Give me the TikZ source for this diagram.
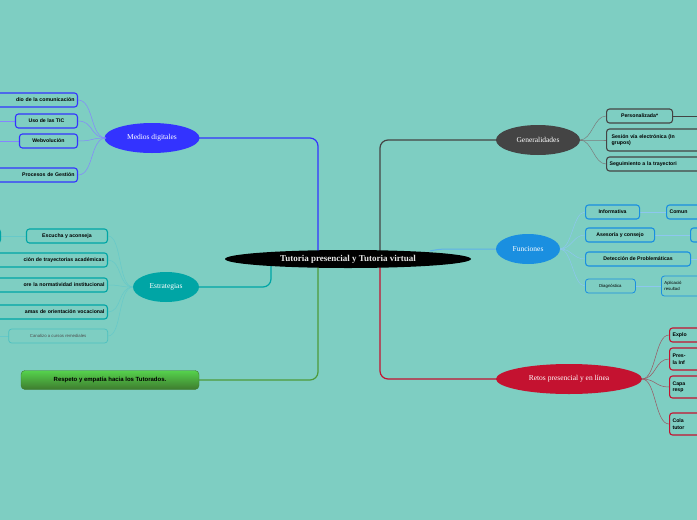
\documentclass[tikz,border=0pt]{standalone}
\usepackage{fontspec}
\setmainfont{Liberation Serif}
\setsansfont{Liberation Sans}
\usetikzlibrary{shapes.geometric}
\definecolor{bg}{HTML}{7ECEC2}
\definecolor{mblue}{HTML}{3333FF}
\definecolor{mteal}{HTML}{00A5A5}
\definecolor{mgray}{HTML}{444444}
\definecolor{fblue}{HTML}{1A8FE0}
\definecolor{mred}{HTML}{C41230}
\definecolor{mgreen}{HTML}{4E9A3A}
\tikzset{
 ell/.style={ellipse,inner sep=0pt,text=white,font=\fontsize{7.5}{8}\selectfont},
 bx/.style={rectangle,rounded corners=3pt,line width=1.1pt,fill=bg,font=\sffamily\bfseries\fontsize{5.2}{6}\selectfont,inner sep=1pt,minimum height=14pt},
 two/.style={minimum height=22pt,font=\sffamily\bfseries\fontsize{5.2}{6.5}\selectfont},
 lnk/.style={line width=0.5pt},
}
\begin{document}
\begin{tikzpicture}[x=1pt,y=-1pt]
\fill[bg] (0,0) rectangle (697,520);
\clip (0,0) rectangle (697,520);
\useasboundingbox (0,0) rectangle (697,520);
\draw[mblue,line width=1.2pt,rounded corners=8pt] (199,138) -- (318,138) -- (318,259);
\draw[mteal,line width=1.2pt,rounded corners=8pt] (199,287) -- (271,287) -- (271,259);
\draw[mgreen,line width=1.2pt,rounded corners=8pt] (199,380) -- (318,380) -- (318,259);
\draw[mgray,line width=1.2pt,rounded corners=8pt] (497,140) -- (380,140) -- (380,259);
\draw[mred,line width=1.2pt,rounded corners=8pt] (497,379) -- (380,379) -- (380,259);
\draw[fblue!70,line width=1pt,rounded corners=6pt] (430,251) -- (440,249) -- (497,249);
\node[ell,fill=black,minimum width=246pt,minimum height=18pt,font=\bfseries\fontsize{9}{10}\selectfont,text=white!90!black] (c) at (348,259) {Tutoria presencial y Tutoria virtual};
% Medios digitales
\node[ell,fill=mblue,minimum width=95pt,minimum height=30pt] (md) at (152,138) {Medios digitales};
\foreach \y in {100,121,141,175}{\draw[mblue!60,lnk] (106,138) .. controls (90,138) and (94,\y) .. (78,\y);}
\draw[mblue!60] (0,121) -- (16,121) (0,141) -- (20,141);
\node[bx,draw=mblue,anchor=east,minimum width=110pt,text width=104pt,align=right] (m1) at (78,100) {dio de la comunicación};
\node[bx,draw=mblue,anchor=east,minimum width=62pt] (m2) at (78,121) {Uso de las TIC};
\node[bx,draw=mblue,anchor=east,minimum width=58pt] (m3) at (78,141) {Webvolución};
\node[bx,draw=mblue,anchor=east,minimum width=90pt,text width=84pt,align=right] (m4) at (78,175) {Procesos de Gestión};
% Estrategias
\node[ell,fill=mteal,minimum width=66pt,minimum height=30pt] (es) at (166,287) {Estrategias};
\foreach \y in {236,260,285,312,336}{\draw[mteal!60,lnk] (133,287) .. controls (118,287) and (122,\y) .. (108,\y);}
\draw[mteal!60] (0,236) -- (27,236) (0,336) -- (9,336);
\node[bx,draw=mteal,minimum width=8pt,anchor=east] (e0) at (1,236) {};
\node[bx,draw=mteal,anchor=east,minimum width=81pt] (e1) at (108,236) {Escucha y aconseja};
\node[bx,draw=mteal,anchor=east,minimum width=130pt,text width=124pt,align=right] (e2) at (108,260) {ción de trayectorias académicas};
\node[bx,draw=mteal,anchor=east,minimum width=130pt,text width=124pt,align=right] (e3) at (108,285) {ore la normatividad institucional};
\node[bx,draw=mteal,anchor=east,minimum width=130pt,text width=124pt,align=right] (e4) at (108,312) {amas de orientación vocacional};
\node[bx,draw=mteal!70,line width=0.7pt,anchor=east,minimum width=99pt,font=\sffamily\fontsize{4.3}{5}\selectfont,text=black!70] (e5) at (108,336) {Canalizo a cursos remediales};
% Respeto
\node[rectangle,rounded corners=4pt,top color=green!45!mgreen!80!white,bottom color=mgreen!80!black,draw=mgreen!80!black,minimum width=178pt,minimum height=19pt,font=\sffamily\bfseries\fontsize{6}{7}\selectfont] (rs) at (110,380) {Respeto y empatía hacia los Tutorados.};
% Generalidades
\node[ell,fill=mgray,minimum width=84pt,minimum height=30pt] (ge) at (538,140) {Generalidades};
\foreach \y in {116,140,164}{\draw[mgray!70,lnk] (580,140) .. controls (592,140) and (594,\y) .. (606,\y);}
\draw[mgray] (672,116) -- (697,116);
\node[bx,draw=mgray,anchor=west,minimum width=66pt] (g1) at (606,116) {Personalizada*};
\node[bx,two,draw=mgray,anchor=west,minimum width=110pt,text width=100pt,align=left] (g2) at (606,140) {Sesión vía electrónica (In\\grupos)};
\node[bx,draw=mgray,anchor=west,minimum width=110pt,text width=104pt,align=left] (g3) at (606,164) {Seguimiento a la trayectori};
% Funciones
\node[ell,fill=fblue,minimum width=64pt,minimum height=30pt] (fu) at (528,249) {Funciones};
\foreach \y in {212,235,259,286}{\draw[fblue!50,lnk] (560,249) .. controls (572,249) and (573,\y) .. (585,\y);}
\draw[fblue!50] (639,212) -- (666,212) (654,235) -- (690,235) (690,259) -- (697,259) (635,286) -- (661,286);
\node[bx,draw=fblue,anchor=west,minimum width=54pt] (f1) at (585,212) {Informativa};
\node[bx,draw=fblue,anchor=west,minimum width=60pt,text width=54pt,align=left] (f1b) at (666,212) {Comun};
\node[bx,draw=fblue,anchor=west,minimum width=69pt] (f2) at (585,235) {Asesoría y consejo};
\node[bx,draw=fblue,anchor=west,minimum width=30pt] (f2b) at (690,235) {};
\node[bx,draw=fblue,anchor=west,minimum width=105pt] (f3) at (585,259) {Detección de Problemáticas};
\node[bx,draw=fblue,line width=0.8pt,anchor=west,minimum width=50pt,font=\sffamily\fontsize{4.3}{5}\selectfont] (f4) at (585,286) {Diagnóstica};
\node[bx,draw=fblue,line width=0.8pt,anchor=west,minimum width=60pt,minimum height=20pt,text width=54pt,align=left,font=\sffamily\fontsize{4.3}{5.5}\selectfont] (f4b) at (661,286) {Aplicació\\resultad};
% Retos
\node[ell,fill=mred,minimum width=146pt,minimum height=30pt] (re) at (569,379) {Retos presencial y en línea};
\foreach \y in {335,359,387,424}{\draw[mred!40!gray,lnk] (642,379) .. controls (656,379) and (655,\y) .. (669,\y);}
\node[bx,draw=mred,anchor=west,minimum width=60pt,text width=54pt,align=left] (r1) at (669,335) {Explo};
\node[bx,two,draw=mred,anchor=west,minimum width=60pt,text width=54pt,align=left] (r2) at (669,359) {Pres-\\la Inf};
\node[bx,two,draw=mred,anchor=west,minimum width=60pt,text width=54pt,align=left] (r3) at (669,387) {Capa\\resp};
\node[bx,two,draw=mred,anchor=west,minimum width=60pt,text width=54pt,align=left] (r4) at (669,424) {Cola\\tutor};
\end{tikzpicture}
\end{document}
